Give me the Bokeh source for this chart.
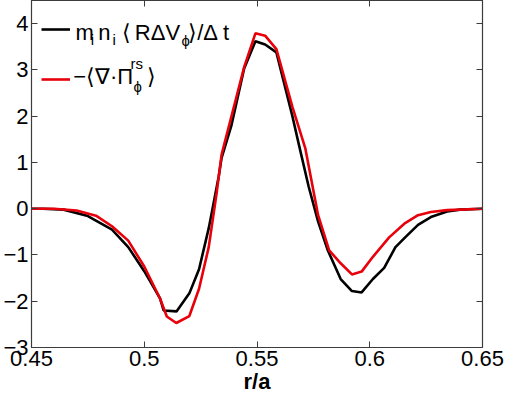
from bokeh.embed import file_html
from bokeh.models import FixedTicker, Label, Legend, LegendItem, LinearAxis, Range1d
from bokeh.plotting import figure
from bokeh.resources import INLINE

# r/a positions and values
r_black = [0.450, 0.455, 0.4643, 0.475, 0.4857, 0.4929, 0.500, 0.507, 0.5086,
           0.5143, 0.520, 0.5243, 0.5286, 0.530, 0.533, 0.5343, 0.5386, 0.5443,
           0.5493, 0.5536, 0.5586, 0.5657, 0.5686, 0.5729, 0.5771, 0.5814,
           0.5871, 0.5921, 0.5964, 0.6014, 0.6064, 0.6114, 0.6157, 0.6214,
           0.6271, 0.6343, 0.640, 0.650]
v_black = [0.0, 0.0, -0.02, -0.16, -0.45, -0.83, -1.35, -1.94, -2.20,
           -2.22, -1.83, -1.31, -0.42, -0.07, 0.69, 1.10, 1.79, 3.03,
           3.62, 3.55, 3.38, 2.00, 1.38, 0.48, -0.28, -0.90,
           -1.52, -1.78, -1.81, -1.52, -1.28, -0.83, -0.62, -0.35,
           -0.18, -0.06, -0.02, 0.0]

r_red = [0.450, 0.460, 0.470, 0.4786, 0.4857, 0.4929, 0.500, 0.507, 0.510,
         0.5142, 0.520, 0.5243, 0.5286, 0.5321, 0.5343, 0.5443, 0.5493,
         0.5536, 0.5586, 0.5657, 0.5714, 0.5771, 0.582, 0.5871, 0.5921,
         0.5964, 0.6014, 0.6086, 0.6157, 0.6214, 0.6271, 0.6343, 0.650]
v_red = [0.0, 0.0, -0.04, -0.15, -0.38, -0.69, -1.25, -1.94, -2.33,
         -2.47, -2.32, -1.73, -0.83, 0.34, 1.17, 3.06, 3.79,
         3.74, 3.45, 2.20, 1.31, -0.14, -0.90, -1.18, -1.42,
         -1.36, -1.04, -0.62, -0.31, -0.14, -0.07, -0.03, 0.0]

x_ticks = [0.45, 0.5, 0.55, 0.6, 0.65]
x_tick_labels = ["0.45", "0.5", "0.55", "0.6", "0.65"]
y_ticks = [-3, -2, -1, 0, 1, 2, 3, 4]
y_tick_labels = ["\u22123", "\u22122", "\u22121", "0", "1", "2", "3", "4"]

FONT = "Liberation Sans"
FRAME = "#3c3c3c"

p = figure(
    width=504,
    height=396,
    x_range=Range1d(0.45, 0.65),
    y_range=Range1d(-3, 4.5),
    output_backend="svg",
    toolbar_location=None,
    min_border_left=30,
    min_border_right=22,
    min_border_top=0,
    min_border_bottom=0,
    outline_line_color=FRAME,
    outline_line_width=1.2,
)
p.grid.visible = False

p.xaxis.ticker = FixedTicker(ticks=x_ticks)
p.yaxis.ticker = FixedTicker(ticks=y_ticks)
p.xaxis.major_label_overrides = dict(zip(x_ticks, x_tick_labels))
p.yaxis.major_label_overrides = dict(zip(y_ticks, y_tick_labels))
p.xaxis.axis_label = "r/a"
p.xaxis.axis_label_text_font = FONT
p.xaxis.axis_label_text_font_style = "bold"
p.xaxis.axis_label_text_font_size = "22px"
p.xaxis.axis_label_text_color = "black"
p.xaxis.axis_label_standoff = 0

for ax in (p.xaxis[0], p.yaxis[0]):
    ax.major_label_text_font = FONT
    ax.major_label_text_font_size = "22px"
    ax.major_label_text_color = "black"
    ax.major_label_standoff = 3
    ax.major_tick_in = 6
    ax.major_tick_out = 0
    ax.minor_tick_line_color = None
    ax.axis_line_color = FRAME
    ax.major_tick_line_color = FRAME

# mirrored tick marks on top and right, as in the original box (no labels)
for side, ticks in (("right", y_ticks), ("above", x_ticks)):
    ax = LinearAxis(ticker=FixedTicker(ticks=ticks), major_label_text_font_size="1px",
                    major_label_text_color=None, major_tick_in=6, major_tick_out=0,
                    major_label_standoff=0, minor_tick_line_color=None,
                    axis_line_color=FRAME, major_tick_line_color=FRAME)
    p.add_layout(ax, side)

l_black = p.line(r_black, v_black, line_color="black", line_width=2.6)
l_red = p.line(r_red, v_red, line_color="#e8000b", line_width=2.6)

legend = Legend(
    items=[LegendItem(label=" ", renderers=[l_black]), LegendItem(label=" ", renderers=[l_red])],
    location="top_left",
    margin=10,
    padding=11,
    spacing=12,
    glyph_width=29,
    glyph_height=38,
    label_height=38,
    label_width=1,
    label_text_font_size="2px",
    label_text_color=None,
    background_fill_alpha=0,
    border_line_color=None,
)
p.add_layout(legend)


def put(text, dx, dy, size="22px"):
    # dx, dy: pixels right of / below the frame's top-left corner
    p.add_layout(Label(x=0.45, y=4.5, x_offset=dx, y_offset=-dy, text=text,
                       text_font=FONT, text_font_size=size, text_color="black",
                       text_baseline="alphabetic", text_align="left"))


put("m", 44, 31.7)
put("i", 59.3, 38.5, "15px")
put("n", 66.7, 31.7)
put("i", 81, 38.5, "15px")
put("\u27e8", 90, 31.7)
put("R\u0394V", 103.3, 31.7)
put("\u03d5", 150, 40, "15px")
put("\u27e9/\u0394 t", 156.7, 31.7)

put("\u2212\u27e8\u2207\u00b7\u03a0", 41.7, 76)
put("rs", 99, 63, "15px")
put("\u03d5", 102, 86, "15px")
put("\u27e9", 115.7, 76)

open("out.html", "w").write(file_html(p, INLINE))
